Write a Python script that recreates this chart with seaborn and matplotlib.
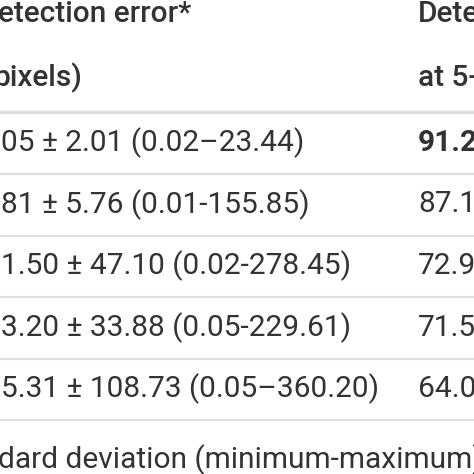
import matplotlib.pyplot as plt
import seaborn as sns

sns.set_theme(style="white")
plt.rcParams['font.family'] = ['Roboto', 'DejaVu Sans']

header_top = ["etection error*", "Dete"]
header_bot = ["pixels)", "at 5-"]
col_error = ["05 ± 2.01 (0.02–23.44)",
             "81 ± 5.76 (0.01-155.85)",
             "1.50 ± 47.10 (0.02-278.45)",
             "3.20 ± 33.88 (0.05-229.61)",
             "5.31 ± 108.73 (0.05–360.20)"]
col_rate = ["91.2", "87.1", "72.9", "71.5", "64.0"]
footnote = "dard deviation (minimum-maximum)"

W = 474
fig = plt.figure(figsize=(4.74, 4.74), dpi=100)
ax = fig.add_axes([0, 0, 1, 1])
ax.set_xlim(0, W)
ax.set_ylim(W, 0)
ax.axis('off')

ink = '#333333'
rule = '#dddddd'
x1, x2 = 1, 418
fs = 21.5

ax.text(-2, 14, header_top[0], fontsize=fs, weight='medium', color=ink, va='center')
ax.text(x2, 14, header_top[1], fontsize=fs, weight='medium', color=ink, va='center')
ax.text(-7, 78, header_bot[0], fontsize=fs, weight='medium', color=ink, va='center')
ax.text(x2, 78, header_bot[1], fontsize=fs, weight='medium', color=ink, va='center')
ax.axhline(112, color=rule, lw=2.5)

row_h = 61.5
for i, (e, r) in enumerate(zip(col_error, col_rate)):
    y = 143 + i * row_h
    ax.text(x1, y, e, fontsize=fs, color=ink, va='center')
    ax.text(x2, y, r, fontsize=fs, color=ink, va='center',
            weight='bold' if i == 0 else 'normal')
    ax.axhline(y + 31, color=rule, lw=1.6)

ax.text(-2, 460, footnote, fontsize=fs, color=ink, va='center')

fig.savefig('out.png', dpi=100)
